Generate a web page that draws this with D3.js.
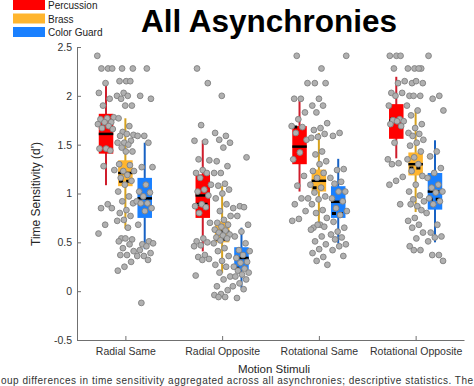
<!DOCTYPE html>
<html>
<head>
  <meta charset="UTF-8">
  <style>
    body { margin: 0; background: #fff; }
    svg { display: block; font-family: "Liberation Sans", Arial, sans-serif; }
  </style>
</head>
<body>
<svg id="chart"></svg>

<script src="https://d3js.org/d3.v7.min.js"></script>
<script>

let width = 474, height = 386;

// categories and groups
const categories = ["Radial Same", "Radial Opposite", "Rotational Same", "Rotational Opposite"];
const groups = ["Percussion", "Brass", "Color Guard"];
const yTicks = [-0.5, 0, 0.5, 1, 1.5, 2, 2.5];
const yTickLabels = ["-0.5", "0", "0.5", "1", "1.5", "2", "2.5"];

// box stats per category: [whiskerLow, q1, median, mean, q3, whiskerHigh]
const percussionStats = [
  [1.085, 1.408, 1.61, 1.68, 1.816, 2.13],
  [0.407, 0.75, 0.98, 0.89, 1.195, 1.545],
  [1.02, 1.30, 1.48, 1.68, 1.69, 1.96],
  [1.36, 1.56, 1.745, 1.76, 1.915, 2.195]
];
const brassStats = [
  [0.64, 1.075, 1.21, 1.125, 1.34, 1.77],
  [0.185, 0.50, 0.61, 0.53, 0.715, 1.075],
  [0.68, 1.02, 1.13, 1.06, 1.245, 1.62],
  [0.81, 1.185, 1.30, 1.26, 1.42, 1.86]
];
const guardStats = [
  [0.43, 0.75, 0.95, 0.89, 1.16, 1.52],
  [0.03, 0.22, 0.34, 0.235, 0.45, 0.65],
  [0.49, 0.75, 0.915, 0.795, 1.075, 1.355],
  [0.50, 0.835, 1.02, 0.94, 1.21, 1.545]
];

// individual participants (d')
const percussionPts = [
  [2.41, 2.28, 2.28, 2.28, 2.13, 2.03, 1.97, 1.90, 1.78, 1.77, 1.76, 1.73, 1.73, 1.71, 1.69, 1.67, 1.66, 1.46, 1.46, 1.44, 1.28, 1.24, 0.89, 0.85, 0.85, 0.68, 0.59],
  [2.28, 2.13, 1.70, 1.54, 1.53, 1.35, 1.34, 1.24, 1.21, 1.21, 1.16, 1.09, 1.04, 1.02, 0.98, 0.89, 0.87, 0.86, 0.80, 0.70, 0.54, 0.51, 0.50, 0.47, 0.46, 0.37, 0.35, 0.33, 0.32, 0.16],
  [2.41, 2.13, 1.97, 1.97, 1.83, 1.76, 1.69, 1.68, 1.62, 1.55, 1.42, 1.35, 1.18, 1.08, 0.95, 0.95, 0.89, 0.82, 0.74, 0.72],
  [2.41, 2.41, 2.41, 2.28, 2.15, 2.13, 2.03, 2.03, 2.00, 1.90, 1.76, 1.75, 1.74, 1.74, 1.71, 1.69, 1.52, 1.35, 1.31, 1.30, 1.17, 1.13, 1.09, 0.89]
];
const brassPts = [
  [2.28, 2.28, 2.15, 2.15, 2.15, 2.03, 2.00, 2.00, 1.97, 1.90, 1.90, 1.77, 1.69, 1.63, 1.60, 1.61, 1.59, 1.54, 1.52, 1.52, 1.50, 1.47, 1.43, 1.43, 1.30, 1.29, 1.23, 1.23, 1.19, 1.16, 1.13, 1.09, 1.02, 0.97, 0.92, 0.90, 0.83, 0.80, 0.77, 0.73, 0.72, 0.65, 0.54, 0.53, 0.54, 0.51, 0.48, 0.44, 0.41, 0.37, 0.37, 0.30, 0.25, 0.21],
  [2.00, 1.62, 1.59, 1.55, 1.52, 1.47, 1.33, 1.28, 1.21, 1.21, 1.10, 1.08, 1.04, 1.00, 0.95, 0.89, 0.82, 0.77, 0.73, 0.70, 0.68, 0.66, 0.63, 0.62, 0.60, 0.58, 0.57, 0.55, 0.54, 0.52, 0.49, 0.44, 0.41, 0.36, 0.31, 0.27, 0.25, 0.19, 0.15, 0.12, 0.05, 0.01, -0.03, -0.04, -0.06, -0.06],
  [2.28, 2.13, 2.13, 1.97, 1.90, 1.90, 1.83, 1.72, 1.67, 1.65, 1.61, 1.58, 1.57, 1.43, 1.40, 1.33, 1.30, 1.23, 1.21, 1.16, 1.09, 1.06, 1.01, 0.97, 0.94, 0.89, 0.83, 0.80, 0.75, 0.68, 0.65, 0.66, 0.68, 0.63, 0.56, 0.51, 0.48, 0.43, 0.39, 0.35, 0.31, 0.27],
  [2.28, 2.28, 2.28, 2.28, 2.13, 2.13, 2.15, 2.00, 2.00, 2.00, 1.90, 1.85, 1.80, 1.71, 1.67, 1.62, 1.61, 1.59, 1.55, 1.52, 1.49, 1.43, 1.37, 1.35, 1.30, 1.23, 1.18, 1.09, 1.02, 0.98, 0.94, 0.92, 0.87, 0.89, 0.83, 0.75, 0.72, 0.68, 0.65, 0.60, 0.54, 0.46, 0.42, 0.42]
];
const guardPts = [
  [2.28, 2.00, 1.97, 1.59, 1.59, 1.52, 1.27, 1.27, 1.09, 1.02, 1.01, 0.97, 0.92, 0.90, 0.90, 0.85, 0.82, 0.68, 0.51, 0.48, 0.49, 0.46, 0.42, 0.39, 0.36, 0.36, 0.32, -0.12],
  [1.37, 0.87, 0.85, 0.86, 0.77, 0.68, 0.61, 0.56, 0.49, 0.42, 0.41, 0.37, 0.34, 0.30, 0.29, 0.25, 0.23, 0.21, 0.19, 0.17, 0.15, 0.12, 0.08, 0.05, 0.02, -0.07],
  [2.41, 1.62, 1.59, 1.25, 1.24, 1.16, 1.12, 1.10, 1.02, 1.02, 0.95, 0.92, 0.85, 0.82, 0.78, 0.71, 0.65, 0.61, 0.58, 0.55, 0.53, 0.48, 0.46, 0.42, 0.36],
  [2.41, 2.00, 1.97, 1.85, 1.43, 1.38, 1.26, 1.21, 1.16, 1.09, 1.06, 1.02, 1.01, 0.95, 0.92, 0.89, 0.80, 0.68, 0.60, 0.56, 0.55, 0.51, 0.37, 0.37, 0.31]
];

const allStats = [percussionStats, brassStats, guardStats];
const allPts = [percussionPts, brassPts, guardPts];
const boxColors = ["#ff0000", "#ffb52e", "#1a80ff"];
const whiskerColors = ["#cf1d2c", "#d6a21f", "#1862c4"];
const groupOffset = [-0.2, 0, 0.2];
const boxW = 0.15;

let svg = d3.select("#chart")
    .attr("width", width)
    .attr("height", height);

var x = d3.scaleLinear().domain([0.5, 4.5]).range([77, 464]);
var y = d3.scaleLinear().domain([-0.5, 2.5]).range([340, 47]);

function styleAxis(g) {
  g.select(".domain").attr("stroke", "#707070");
  g.selectAll(".tick line").attr("stroke", "#707070");
  g.selectAll(".tick text")
      .attr("font-size", 10.5)
      .attr("fill", "#333")
      .attr("font-family", "Liberation Sans, Arial, sans-serif");
}

// axes
var yAxis = d3.axisLeft(y)
    .tickValues(yTicks)
    .tickFormat((d, i) => yTickLabels[i])
    .tickSizeInner(-4)
    .tickSizeOuter(0)
    .tickPadding(5);

svg.append("g")
    .attr("transform", "translate(77,0)")
    .call(yAxis)
    .call(styleAxis);

var xAxis = d3.axisBottom(x)
    .tickValues([1, 2, 3, 4])
    .tickFormat((d, i) => categories[i])
    .tickSizeInner(-4)
    .tickSizeOuter(0)
    .tickPadding(8);

svg.append("g")
    .attr("transform", "translate(0,340)")
    .call(xAxis)
    .call(styleAxis);

// boxes
let plot = svg.append("g");
allStats.forEach((stats, g) => {
  stats.forEach((s, c) => {
    let cx = c + 1 + groupOffset[g];
    plot.append("line")
        .attr("x1", x(cx)).attr("x2", x(cx))
        .attr("y1", y(s[0])).attr("y2", y(s[5]))
        .attr("stroke", whiskerColors[g])
        .attr("stroke-width", 2);
    plot.append("rect")
        .attr("x", x(cx - boxW / 2))
        .attr("width", x(cx + boxW / 2) - x(cx - boxW / 2))
        .attr("y", y(s[4]))
        .attr("height", y(s[1]) - y(s[4]))
        .attr("fill", boxColors[g]);
    plot.append("line")
        .attr("x1", x(cx - boxW / 2)).attr("x2", x(cx + boxW / 2))
        .attr("y1", y(s[2])).attr("y2", y(s[2]))
        .attr("stroke", "#000")
        .attr("stroke-width", 2.5);
    plot.append("line")
        .attr("x1", x(cx - boxW / 2) + 1).attr("x2", x(cx + boxW / 2))
        .attr("y1", y(s[3])).attr("y2", y(s[3]))
        .attr("stroke", "#000")
        .attr("stroke-width", 3)
        .attr("stroke-dasharray", "4,3");
  });
});

// participant dots, spread sideways around each box
allPts.forEach((pts, g) => {
  pts.forEach((vals, c) => {
    plot.selectAll(null)
        .data(vals)
        .enter()
        .append("circle")
        .attr("cx", (d, i) => x(c + 1 + groupOffset[g] + (((i * 0.618034 + g * 0.31 + c * 0.17) % 1) - 0.5) * 0.18))
        .attr("cy", d => y(d))
        .attr("r", 2.9)
        .attr("fill", "#b0b0b0")
        .attr("stroke", "#808080")
        .attr("stroke-width", 0.9);
  });
});

// titles
svg.append("text")
    .attr("x", 269).attr("y", 32)
    .attr("text-anchor", "middle")
    .attr("font-size", 31.5)
    .attr("font-weight", "bold")
    .text("All Asynchronies");

svg.append("text")
    .attr("transform", "translate(40,194) rotate(-90)")
    .attr("text-anchor", "middle")
    .attr("font-size", 12)
    .attr("fill", "#262626")
    .text("Time Sensitivity (d')");

svg.append("text")
    .attr("x", 274).attr("y", 373)
    .attr("text-anchor", "middle")
    .attr("font-size", 11.5)
    .attr("fill", "#262626")
    .text("Motion Stimuli");

// legend
let legend = svg.append("g");
groups.forEach((name, i) => {
  legend.append("rect")
      .attr("x", 13).attr("y", i * 13.5)
      .attr("width", 32).attr("height", 10)
      .attr("fill", boxColors[i]);
  legend.append("text")
      .attr("x", 48).attr("y", 9 + i * 13.5)
      .attr("font-size", 10)
      .attr("fill", "#222")
      .text(name);
});

// figure caption (runs past the page edge in the source)
svg.append("text")
    .attr("x", 1).attr("y", 384)
    .attr("font-size", 10)
    .attr("fill", "#333")
    .attr("textLength", 472)
    .attr("lengthAdjust", "spacing")
    .text("oup differences in time sensitivity aggregated across all asynchronies; descriptive statistics. The");

</script>
</body>
</html>
